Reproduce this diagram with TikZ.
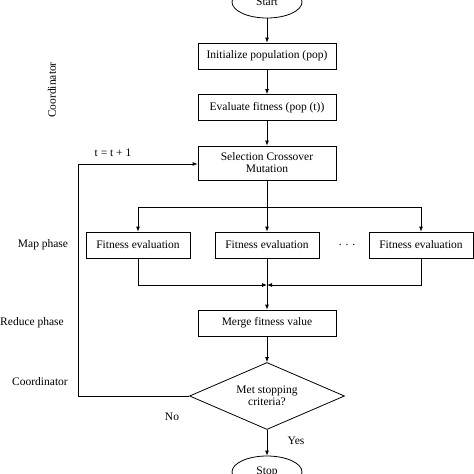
\documentclass[tikz,border=0pt]{standalone}
\usepackage{fontspec}
\setmainfont{Liberation Serif}
\usetikzlibrary{shapes.geometric, arrows.meta}

\begin{document}
\begin{tikzpicture}[x=1pt, y=-1pt, line width=0.8pt,
  every node/.style={font=\fontsize{11.5}{13}\selectfont},
  box/.style={draw, rectangle, minimum width=138pt, minimum height=26pt, inner sep=2pt, align=center},
  fitbox/.style={draw, rectangle, minimum width=104pt, minimum height=26pt, inner sep=2pt},
  term/.style={draw, ellipse, minimum width=70pt, minimum height=32pt, inner sep=0pt},
  decision/.style={draw, diamond, aspect=2.3, minimum width=155pt, minimum height=67pt, inner sep=0pt, align=center},
  arr/.style={-{Latex[length=5pt, width=4pt]}}]
  % page size, 1px = 1pt
  \useasboundingbox (0,0) rectangle (474,474);

  \node[term] (start) at (267,2) {Start};
  \node[box] (init) at (267,56) {Initialize population (pop)};
  \node[box] (eval) at (267,107.5) {Evaluate fitness (pop (t))};
  \node[box, minimum height=34pt] (sel) at (267,163) {Selection Crossover\\[-1pt]Mutation};

  \node[fitbox] (fit1) at (138,245) {Fitness evaluation};
  \node[fitbox] (fit2) at (267,245) {Fitness evaluation};
  \node (dots) at (347,245) {.\,\,.\,\,.};
  \node[fitbox] (fit3) at (421,245) {Fitness evaluation};

  \node[box] (merge) at (267,323) {Merge fitness value};
  \node[decision] (crit) at (267,396) {Met stopping\\[-1pt]criteria?};
  \node[term] (stop) at (267,472) {Stop};

  \coordinate (split) at (267,207);
  \coordinate (join) at (267,285);
  \coordinate (loop) at (78,164);

  \draw[arr] (start) -- (init);
  \draw[arr] (init) -- (eval);
  \draw[arr] (eval) -- (sel);
  \draw[arr] (sel) -- (fit2);
  \draw[arr] (split) -| (fit1.north);
  \draw[arr] (split) -| (fit3.north);
  \draw[arr] (fit1.south) |- (join);
  \draw[arr] (fit3.south) |- (join);
  \draw[arr] (fit2) -- (merge);
  \draw[arr] (merge) -- (crit);
  \draw[arr] (crit) -- (stop);
  \draw[arr] (crit.west) -| (loop) -- (sel.west |- loop);

  \node (tinc) at (113,153) {t = t + 1};
  \node (no) at (172,417) {No};
  \node (yes) at (296,441) {Yes};

  \node[rotate=90] (coord1) at (52,90) {Coordinator};
  \node (mapph) at (43,245) {Map phase};
  \node (redph) at (32,323) {Reduce phase};
  \node (coord2) at (40,382) {Coordinator};
\end{tikzpicture}
\end{document}
